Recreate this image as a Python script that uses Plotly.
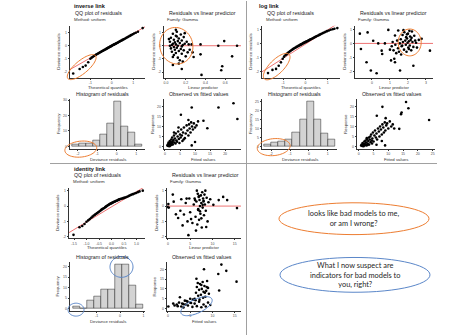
import numpy as np
import plotly.graph_objects as go

W, H = 474, 336

# ---------------- inverse link model ----------------
qq_inv_theo = [-1.80, -1.50, -1.35, -1.22, -1.10, -1.00, -0.94, -0.88, -0.83, -0.78, -0.73, -0.68, -0.63, -0.58,
               -0.54, -0.50, -0.46, -0.42, -0.38, -0.34, -0.30, -0.27, -0.24, -0.21, -0.18, -0.15, -0.12, -0.09,
               -0.06, -0.03, 0.00, 0.03, 0.06, 0.09, 0.12, 0.15, 0.18, 0.21, 0.24, 0.27, 0.30, 0.34, 0.38, 0.42,
               0.46, 0.50, 0.54, 0.58, 0.63, 0.68, 0.73, 0.78, 0.84, 0.90, 0.97, 1.04, 1.12, 1.22, 1.44]
qq_inv_res = [-2.10, -1.75, -1.60, -1.50, -1.25, -0.98, -0.90, -0.83, -0.77, -0.72, -0.67, -0.62, -0.58, -0.53,
              -0.49, -0.45, -0.42, -0.38, -0.35, -0.31, -0.28, -0.25, -0.22, -0.19, -0.16, -0.14, -0.11, -0.08,
              -0.05, -0.03, 0.00, 0.03, 0.05, 0.08, 0.10, 0.13, 0.15, 0.18, 0.21, 0.23, 0.26, 0.30, 0.33, 0.37,
              0.40, 0.44, 0.47, 0.51, 0.55, 0.60, 0.64, 0.69, 0.74, 0.80, 0.86, 0.92, 0.98, 1.05, 1.33]
qq_inv_line = (0.0, 0.92)  # intercept, slope

lp_inv = [0.04, 0.05, 0.05, 0.06, 0.06, 0.07, 0.07, 0.08, 0.08, 0.08, 0.09, 0.09, 0.10, 0.10, 0.10, 0.11, 0.11,
          0.12, 0.12, 0.12, 0.13, 0.13, 0.14, 0.14, 0.15, 0.15, 0.16, 0.16, 0.17, 0.17, 0.18, 0.18, 0.19, 0.20,
          0.21, 0.22, 0.23, 0.24, 0.03, 0.04, 0.07, 0.11, 0.13, 0.16, 0.19, 0.27, 0.28, 0.35, 0.35, 0.36, 0.53,
          0.59, 0.72, 0.67, 0.57, 0.56, 0.16, 0.07, 0.26, 0.10]
res_inv = [0.30, -0.20, 0.60, 0.05, -0.45, 0.90, 0.15, -0.10, 0.45, -0.70, 0.25, -0.30, 1.20, 0.10, -0.55, 0.70,
           -0.15, 0.35, -0.90, 0.00, 0.55, -0.40, 0.20, -1.10, 0.85, -0.25, 0.40, -0.60, 0.05, -1.20, 0.65, -0.35,
           0.15, -0.80, 0.30, -0.50, 0.10, -0.30, 0.50, 0.00, -0.85, 1.05, -1.35, -0.05, 0.95, -0.50, -0.85, 0.10,
           -0.65, -2.20, 0.00, 0.35, 0.00, -0.80, -1.55, -1.85, -1.75, -1.45, 0.10, 0.75]

hist_inv_mid = [-2.12, -1.76, -1.40, -1.04, -0.68, -0.32, 0.04, 0.40, 0.76, 1.12]
hist_inv_cnt = [1, 2, 2, 4, 8, 15, 29, 13, 9, 1]
hist_inv_width = 0.36

fit_inv = [0.8, 1.0, 1.1, 1.2, 1.3, 1.4, 1.5, 1.6, 1.7, 1.8, 1.9, 2.0, 2.1, 2.2, 2.3, 2.4, 2.5, 2.6, 2.8, 3.0,
           3.1, 3.3, 3.5, 3.6, 3.8, 4.0, 4.2, 4.4, 4.6, 4.8, 5.0, 5.2, 5.4, 5.6, 5.8, 6.0, 6.3, 6.6, 6.9, 7.2,
           7.5, 7.8, 8.0, 8.2, 8.5, 8.7, 9.0, 9.3, 9.6, 10.0, 10.5, 11.0, 5.3, 8.9, 7.8, 8.9, 10.0, 12.8, 14.1,
           17.8, 22.8, 24.1, 3.0, 4.5, 6.2]
obs_inv = [0.5, 1.2, 0.3, 2.0, 0.8, 1.5, 0.2, 2.8, 1.0, 0.6, 2.2, 1.4, 3.5, 0.9, 1.8, 4.5, 2.5, 1.1, 3.2, 5.5,
           2.0, 4.0, 1.5, 6.5, 3.0, 2.4, 5.0, 7.5, 3.8, 1.8, 6.0, 4.5, 8.5, 5.5, 2.8, 7.0, 9.5, 4.2, 6.5, 10.5,
           8.0, 5.5, 11.0, 9.0, 7.0, 12.0, 10.0, 8.5, 11.5, 9.5, 10.5, 12.5, 15.8, 19.4, 13.2, 0.6, 2.3, 12.8, 9.1,
           19.4, 21.5, 13.7, 7.0, 9.5, 3.5]

# ---------------- log link model ----------------
qq_log_theo = [-1.68, -1.48, -1.32, -1.20, -1.10, -1.02, -0.96, -0.90, -0.85, -0.80, -0.75, -0.70, -0.65, -0.60,
               -0.56, -0.52, -0.48, -0.44, -0.40, -0.36, -0.32, -0.28, -0.25, -0.22, -0.19, -0.16, -0.13, -0.10,
               -0.07, -0.04, -0.01, 0.02, 0.05, 0.08, 0.11, 0.14, 0.17, 0.20, 0.23, 0.27, 0.31, 0.35, 0.39, 0.43,
               0.47, 0.52, 0.57, 0.62, 0.67, 0.72, 0.78, 0.84, 0.90, 0.97, 1.05, 1.13, 1.22, 1.30, 1.43]
qq_log_res = [-2.13, -1.90, -1.83, -1.60, -1.36, -1.10, -0.95, -0.85, -0.77, -0.70, -0.63, -0.57, -0.51, -0.46,
              -0.41, -0.37, -0.33, -0.29, -0.25, -0.22, -0.18, -0.15, -0.12, -0.09, -0.07, -0.04, -0.01, 0.02,
              0.04, 0.06, 0.09, 0.11, 0.14, 0.16, 0.19, 0.21, 0.24, 0.26, 0.29, 0.32, 0.35, 0.39, 0.42, 0.46,
              0.49, 0.53, 0.57, 0.61, 0.65, 0.69, 0.74, 0.78, 0.83, 0.88, 0.93, 0.98, 1.02, 1.05, 1.10]
qq_log_line = (-0.05, 1.02)

lp_log = [-0.67, -0.24, -0.61, -0.30, -0.06, 0.26, 0.07, 0.35, 0.54, 0.57, 0.72, 0.91, 1.06, 1.24, 1.28, 1.56,
          1.28, 1.46, 2.30, 3.22, 2.76,
          1.60, 1.65, 1.70, 1.72, 1.78, 1.80, 1.85, 1.88, 1.90, 1.92, 1.95, 1.98, 2.00, 2.02, 2.05, 2.08, 2.10,
          2.12, 2.15, 2.18, 2.20, 2.25, 2.30, 2.35, 2.40, 2.45, 1.75, 1.95, 2.05, 2.22,
          1.10, 1.15, 1.20, 1.30, 1.35, 1.40, 1.45, 1.50, 1.55, 1.62, 1.68, 2.50, 2.60, 1.00]
res_log = [0.70, 0.79, -0.40, -1.35, -1.95, -2.14, 0.19, 0.00, -0.52, -0.76, 0.00, 0.97, -1.22, -1.10, -1.35,
           -1.95, 0.57, 0.93, -1.60, -0.52, 0.33,
           0.30, -0.20, 0.60, 0.10, -0.45, 0.80, 0.20, -0.10, 0.45, -0.60, 0.35, 0.05, 0.70, -0.30, 0.15, 0.90,
           -0.15, 0.50, 0.25, -0.50, 0.40, 0.10, -0.25, 0.55, 0.20, 0.05, 0.95, 0.65, -0.40, 0.85,
           -0.20, 0.10, -0.50, -0.10, -0.70, 0.20, -0.35, -0.60, 0.00, -0.80, -0.15, -0.30, 0.25, -0.45]

hist_log_mid = [-2.21, -1.83, -1.45, -1.07, -0.69, -0.31, 0.07, 0.45, 0.83, 1.21]
hist_log_cnt = [1, 2, 3, 4, 8, 15, 25, 15, 7, 4]
hist_log_width = 0.38

fit_log = [0.8, 1.0, 1.2, 1.3, 1.5, 1.6, 1.8, 1.9, 2.0, 2.2, 2.3, 2.5, 2.6, 2.8, 3.0, 3.2, 3.4, 3.5, 3.7, 3.9,
           4.0, 4.2, 4.4, 4.6, 4.8, 5.0, 5.3, 5.5, 5.8, 6.0, 6.2, 6.5, 6.8, 7.0, 7.2, 7.5, 7.8, 8.0, 8.3, 8.5,
           8.8, 9.0, 9.3, 9.6, 10.0, 10.5, 11.0, 11.5, 12.0, 16.0, 16.8, 14.5, 14.3, 8.0, 6.1, 23.8, 13.7, 9.1,
           8.9, 7.8, 3.0, 4.5, 6.0, 1.4, 2.7]
obs_log = [0.5, 1.0, 0.3, 1.8, 0.9, 0.2, 1.4, 2.5, 0.7, 1.2, 3.0, 2.0, 0.6, 3.8, 1.5, 2.8, 4.5, 1.0, 3.5, 5.0,
           2.2, 6.0, 3.0, 4.0, 7.0, 2.5, 5.5, 8.0, 4.5, 6.5, 3.5, 9.0, 7.5, 5.0, 10.0, 8.5, 6.0, 11.0, 9.5, 7.0,
           12.0, 8.0, 10.5, 11.5, 9.0, 12.5, 10.0, 11.0, 9.0, 22.1, 19.0, 16.9, 16.1, 19.7, 15.3, 13.2, 8.8, 14.1,
           0.6, 2.8, 0.8, 1.5, 0.9, 0.4, 4.2]

# ---------------- identity link model ----------------
qq_id_theo = [-1.52, -1.28, -1.17, -1.08, -1.00, -0.93, -0.87, -0.81, -0.76, -0.71, -0.66, -0.61, -0.57, -0.53,
              -0.49, -0.45, -0.41, -0.37, -0.33, -0.29, -0.25, -0.22, -0.19, -0.16, -0.13, -0.10, -0.07, -0.04,
              -0.01, 0.02, 0.05, 0.08, 0.11, 0.14, 0.17, 0.20, 0.23, 0.26, 0.29, 0.32, 0.35, 0.39, 0.43, 0.47,
              0.51, 0.55, 0.60, 0.65, 0.70, 0.75, 0.80, 0.86, 0.92, 0.98, 1.05, 1.12, 1.25]
qq_id_res = [-1.88, -1.38, -1.30, -1.17, -1.02, -0.93, -0.85, -0.76, -0.69, -0.62, -0.56, -0.50, -0.45, -0.40,
             -0.35, -0.30, -0.25, -0.20, -0.16, -0.12, -0.07, -0.03, 0.00, 0.04, 0.07, 0.10, 0.13, 0.16, 0.18,
             0.21, 0.23, 0.26, 0.28, 0.30, 0.33, 0.35, 0.37, 0.40, 0.42, 0.44, 0.46, 0.48, 0.50, 0.52, 0.54,
             0.56, 0.59, 0.63, 0.67, 0.71, 0.75, 0.78, 0.82, 0.86, 0.91, 0.96, 1.01]
qq_id_line = (-0.05, 0.99)

lp_id = [-0.1, 0.1, 0.2, 1.1, 1.3, 1.8, 2.3, 3.3, 4.2, 4.6, 5.2, 6.1, 6.5, 7.2, 7.8, 8.4, 8.6, 10.2, 11.4, 12.4,
         13.3, 15.5,
         2.8, 3.0, 3.6, 4.0, 4.4, 4.8, 5.0, 5.5, 5.8,
         6.0, 6.2, 6.4, 6.6, 6.7, 6.8, 6.9, 7.0, 7.1, 7.2, 7.3, 7.4, 7.5, 7.6, 7.7, 7.8, 7.9, 8.0, 8.1, 8.2,
         8.3, 8.5, 8.7, 8.9, 9.1, 6.3, 7.0, 7.5, 8.0, 6.8, 9.5]
res_id = [-0.06, 0.13, -0.10, 0.75, 0.29, -0.54, -0.78, -1.26, 0.49, -1.90, -0.85, 0.39, 1.01, -0.34, 0.08, 1.01,
          -1.37, 0.08, 0.39, 0.60, 0.39, -0.13,
          -0.30, 0.45, -0.55, 0.20, -1.00, 0.50, -0.40, -1.10, 0.10,
          0.50, -0.70, 0.30, -1.20, 0.80, -0.20, 0.60, -0.90, 0.40, 0.00, -0.50, 0.70, 0.20, -1.40, 0.90, -0.10,
          0.50, 0.30, -0.60, 0.75, 0.10, -0.30, 0.55, -1.00, 0.25, -1.60, 0.65, -0.80, 0.35, -0.25, 0.45]

hist_id_mid = [-1.85, -1.55, -1.25, -0.95, -0.65, -0.35, -0.05, 0.25, 0.55, 0.85]
hist_id_cnt = [1, 0, 4, 6, 9, 9, 21, 21, 11, 2]
hist_id_width = 0.30

fit_id = [0.1, 1.2, 2.7, 12.0, 8.1, 13.1, 11.3, 15.4, 11.5, 6.4,
          6.0, 6.3, 6.5, 6.8, 7.0, 7.2, 7.4, 7.6, 7.8, 8.0, 8.2, 8.4, 8.6, 8.8, 9.0, 9.2, 7.1, 7.5, 7.9, 8.3,
          6.7, 8.7,
          3.0, 3.5, 4.0, 4.5, 5.0, 5.5, 6.0, 6.5, 7.0, 7.5, 8.0, 8.5, 9.0, 9.5, 4.2, 5.2, 6.2,
          1.5, 2.0, 2.5, 3.2, 3.8, 4.4, 5.0, 5.6, 2.2, 3.5]
obs_id = [1.0, 2.5, 5.7, 22.4, 20.0, 19.2, 17.6, 13.7, 9.2, 15.2,
          5.0, 8.0, 11.0, 6.5, 9.5, 12.5, 7.0, 10.0, 13.5, 8.5, 11.5, 6.0, 9.0, 14.0, 10.5, 7.5, 4.5, 12.0, 5.5,
          8.0, 13.0, 11.0,
          1.0, 0.5, 2.0, 1.5, 3.0, 0.8, 2.5, 1.2, 3.5, 0.6, 2.0, 1.0, 3.0, 1.8, 3.8, 2.8, 4.2,
          1.5, 2.0, 3.0, 2.5, 4.0, 3.5, 5.0, 4.5, 1.2, 2.2]

block_labels = ["inverse link", "log link", "identity link"]
note_orange = "looks like bad models to me,<br>or am I wrong?"
note_blue = "What I now suspect are<br>indicators for bad models to<br>you, right?"

# ---------------- styling ----------------
FONT = "Liberation Sans, Arial, sans-serif"
AXIS = "#333333"
TICK = "#4d4d4d"
RED = "rgba(232,60,60,0.8)"
ORANGE = "#ED7D31"
BLUE = "#5B87C9"
BAR_FILL = "#D3D3D3"

fig = go.Figure()
layout_axes = {}
annotations = []
shapes = []
n_axes = [0]


def fmt(v):
    return str(int(v)) if float(v).is_integer() else str(v)


def add_panel(x0, x1, y0, y1, xrange, yrange, xticks, yticks, xtext=None, ytext=None):
    n_axes[0] += 1
    i = n_axes[0]
    sfx = "" if i == 1 else str(i)
    common = dict(showline=True, linecolor=AXIS, linewidth=0.6, ticks="outside", ticklen=1.5,
                  tickwidth=0.5, tickcolor=AXIS, tickfont=dict(size=3.5, color=TICK, family=FONT),
                  showgrid=False, zeroline=False, fixedrange=True, mirror=False)
    layout_axes["xaxis" + sfx] = dict(domain=[x0 / W, x1 / W], range=xrange, anchor="y" + sfx,
                                      tickvals=xticks, ticktext=xtext or [fmt(v) for v in xticks], **common)
    layout_axes["yaxis" + sfx] = dict(domain=[1 - y1 / H, 1 - y0 / H], range=yrange, anchor="x" + sfx,
                                      tickvals=yticks, ticktext=ytext or [fmt(v) for v in yticks], **common)
    return "x" + sfx, "y" + sfx


def text(x, y, s, size, anchor="left", bold=False, angle=0, color="#222222", family=FONT):
    annotations.append(dict(x=x / W, y=1 - y / H, xref="paper", yref="paper", text=f"<b>{s}</b>" if bold else s,
                            showarrow=False, xanchor=anchor, yanchor="middle", textangle=angle,
                            font=dict(size=size, color=color, family=family), borderpad=0))


def ellipse(cx, cy, rx, ry, angle_deg, color, width=1.0):
    t = np.linspace(0, 2 * np.pi, 60)
    a = np.deg2rad(angle_deg)
    px = cx + rx * np.cos(t) * np.cos(a) - ry * np.sin(t) * np.sin(a)
    py = cy + rx * np.cos(t) * np.sin(a) + ry * np.sin(t) * np.cos(a)
    pts = [f"{x / W:.5f},{1 - y / H:.5f}" for x, y in zip(px, py)]
    shapes.append(dict(type="path", xref="paper", yref="paper", path="M" + " L".join(pts) + " Z",
                       line=dict(color=color, width=width), fillcolor="rgba(0,0,0,0)", layer="above"))


def scatter(xr, yr, xs, ys):
    fig.add_trace(go.Scatter(x=xs, y=ys, mode="markers", xaxis=xr, yaxis=yr,
                             marker=dict(size=2.6, color="black", line=dict(width=0))))


def ref_line(xr, yr, intercept, slope):
    xs = [-100, 100]
    fig.add_trace(go.Scatter(x=xs, y=[intercept + slope * v for v in xs], mode="lines", xaxis=xr, yaxis=yr,
                             line=dict(color=RED, width=0.9)))


def hist(xr, yr, mids, counts, width):
    fig.add_trace(go.Bar(x=mids, y=counts, width=width, xaxis=xr, yaxis=yr,
                         marker=dict(color=BAR_FILL, line=dict(color="#222222", width=0.5))))


def block(dx, dy, label, qq, resid, hst, obs, geo):
    text(dx + 73, dy + 5.5, label, 5.6, bold=True, color="#111111")
    (qx, qy, rx_, ry_, hx, hy, ox, oy) = geo
    # QQ plot
    xa, ya = add_panel(*qx, *qy, *qq["axes"])
    ref_line(xa, ya, *qq["line"])
    scatter(xa, ya, qq["x"], qq["y"])
    text(qx[0] + 4, qy[0] - 13.2, "QQ plot of residuals", 5.3)
    text(qx[0] + 3, qy[0] - 6, "Method: uniform", 4.4, color="#333333")
    text((qx[0] + qx[1]) / 2, qy[1] + 9.6, "Theoretical quantiles", 4.3, anchor="center", color="#333333")
    text(qx[0] - 11, (qy[0] + qy[1]) / 2, "Deviance residuals", 4.3, anchor="center", angle=-90, color="#333333")
    # residuals vs linear predictor
    xa, ya = add_panel(*rx_, *ry_, *resid["axes"])
    ref_line(xa, ya, 0.0, 0.0)
    scatter(xa, ya, resid["x"], resid["y"])
    text(rx_[0] + 4, ry_[0] - 13.2, "Residuals vs linear predictor", 5.3)
    text(rx_[0] + 2, ry_[0] - 6, "Family: Gamma", 4.4, color="#333333")
    text((rx_[0] + rx_[1]) / 2, ry_[1] + 9.6, "Linear predictor", 4.3, anchor="center", color="#333333")
    text(rx_[0] - 10, (ry_[0] + ry_[1]) / 2, "Deviance residuals", 4.3, anchor="center", angle=-90,
         color="#333333")
    # histogram
    xa, ya = add_panel(*hx, *hy, *hst["axes"])
    hist(xa, ya, hst["x"], hst["y"], hst["w"])
    text(hx[0] + 5, hy[0] - 5, "Histogram of residuals", 5.3)
    text((hx[0] + hx[1]) / 2, hy[1] + 11.2, "Deviance residuals", 4.3, anchor="center", color="#333333")
    text(hx[0] - 12, (hy[0] + hy[1]) / 2, "Frequency", 4.3, anchor="center", angle=-90, color="#333333")
    # observed vs fitted
    xa, ya = add_panel(*ox, *oy, *obs["axes"])
    scatter(xa, ya, obs["x"], obs["y"])
    text(ox[0] + 4, oy[0] - 5, "Observed vs fitted values", 5.3)
    text((ox[0] + ox[1]) / 2, oy[1] + 11.2, "Fitted values", 4.3, anchor="center", color="#333333")
    text(ox[0] - 12, (oy[0] + oy[1]) / 2, "Response", 4.3, anchor="center", angle=-90, color="#333333")


# inverse link block
block(0, 0, block_labels[0],
      dict(x=qq_inv_theo, y=qq_inv_res, line=qq_inv_line,
           axes=([-1.95, 1.55], [-2.4, 1.5], [-1, 0, 1], [-2, -1, 0, 1])),
      dict(x=lp_inv, y=res_inv,
           axes=([-0.02, 0.76], [-2.4, 1.5], [0, 0.2, 0.4, 0.6], [-2, -1, 0, 1], ["0.0", "0.2", "0.4", "0.6"])),
      dict(x=hist_inv_mid, y=hist_inv_cnt, w=hist_inv_width,
           axes=([-2.40, 1.45], [-1.45, 30.45], [-2, -1, 0, 1], [0, 10, 20, 30])),
      dict(x=fit_inv, y=obs_inv,
           axes=([-0.33, 25.3], [-1.0, 23.4], [0, 5, 10, 15, 20], [0, 5, 10, 15, 20])),
      ((70, 145), (25, 77), (164, 241), (25, 77), (70, 145), (99, 148.5), (164, 241), (99, 148.5)))

# log link block
block(185, 0, block_labels[1],
      dict(x=qq_log_theo, y=qq_log_res, line=qq_log_line,
           axes=([-1.95, 1.55], [-2.45, 1.26], [-1, 0, 1], [-2, -1, 0, 1])),
      dict(x=lp_log, y=res_log,
           axes=([-0.94, 3.39], [-2.45, 1.26], [0, 1, 2, 3], [-2, -1, 0, 1])),
      dict(x=hist_log_mid, y=hist_log_cnt, w=hist_log_width,
           axes=([-2.49, 1.49], [-1.25, 26.25], [-2, -1, 0, 1], [0, 5, 10, 15, 20, 25])),
      dict(x=fit_log, y=obs_log,
           axes=([-0.6, 25.8], [-1.0, 23.4], [0, 5, 10, 15, 20, 25], [0, 5, 10, 15, 20])),
      ((262, 340), (25, 77), (355, 433), (25, 77), (262, 337), (99, 148.5), (357, 435), (99, 148.5)))

# identity link block
block(0, 163.5, block_labels[2],
      dict(x=qq_id_theo, y=qq_id_res, line=qq_id_line,
           axes=([-1.7, 1.34], [-2.09, 1.19], [-1.5, -1.0, -0.5, 0.0, 0.5, 1.0], [-2, -1, 0, 1],
                 ["-1.5", "-1.0", "-0.5", "0.0", "0.5", "1.0"])),
      dict(x=lp_id, y=res_id,
           axes=([-0.2, 16.4], [-2.09, 1.19], [0, 5, 10, 15], [-2, -1, 0, 1])),
      dict(x=hist_id_mid, y=hist_id_cnt, w=hist_id_width,
           axes=([-2.14, 1.07], [-1.05, 22.05], [-1, 0, 1], [0, 5, 10, 15, 20])),
      dict(x=fit_id, y=obs_id,
           axes=([-0.2, 16.4], [-1.1, 23.5], [0, 5, 10, 15], [0, 5, 10, 15, 20])),
      ((69, 145), (188, 238.5), (167, 241), (188, 238.5), (70, 145), (263, 311.5), (167, 241), (263, 311.5)))

# dividers between blocks
shapes.append(dict(type="line", xref="paper", yref="paper", x0=246.5 / W, x1=246.5 / W, y0=0, y1=1,
                   line=dict(color="#a0a0a0", width=1)))
shapes.append(dict(type="line", xref="paper", yref="paper", x0=50 / W, x1=437 / W,
                   y0=1 - 163.5 / H, y1=1 - 163.5 / H, line=dict(color="#a0a0a0", width=1)))

# highlight rings
ellipse(81.7, 66.5, 18, 6.5, -40, ORANGE)
ellipse(176.3, 45, 16.5, 18.5, -15, ORANGE)
ellipse(80.8, 149, 16, 8, -6, ORANGE)
ellipse(276.7, 66, 17.5, 7, -45, ORANGE)
ellipse(409.7, 41.7, 11.5, 13.5, 0, ORANGE)
ellipse(273.7, 147, 16.5, 8.5, -6, ORANGE)
ellipse(76, 310.5, 8, 6.5, 0, BLUE)
ellipse(121.5, 267.5, 11.5, 10.5, 0, BLUE)
ellipse(196.5, 307, 17, 7, -25, BLUE)

# speech bubbles
ellipse(354, 219, 75, 16, 0, ORANGE)
ellipse(355, 275.5, 75, 17.5, 0, BLUE)
text(354, 219, note_orange, 7.4, anchor="center", color="#262626", family="Lato, Open Sans, sans-serif")
text(355, 276, note_blue, 7.4, anchor="center", color="#262626", family="Lato, Open Sans, sans-serif")

fig.update_layout(width=W, height=H, margin=dict(l=0, r=0, t=0, b=0), autosize=False,
                  paper_bgcolor="white", plot_bgcolor="white", showlegend=False, bargap=0,
                  annotations=annotations, shapes=shapes, **layout_axes)

fig.write_html("out.html")
